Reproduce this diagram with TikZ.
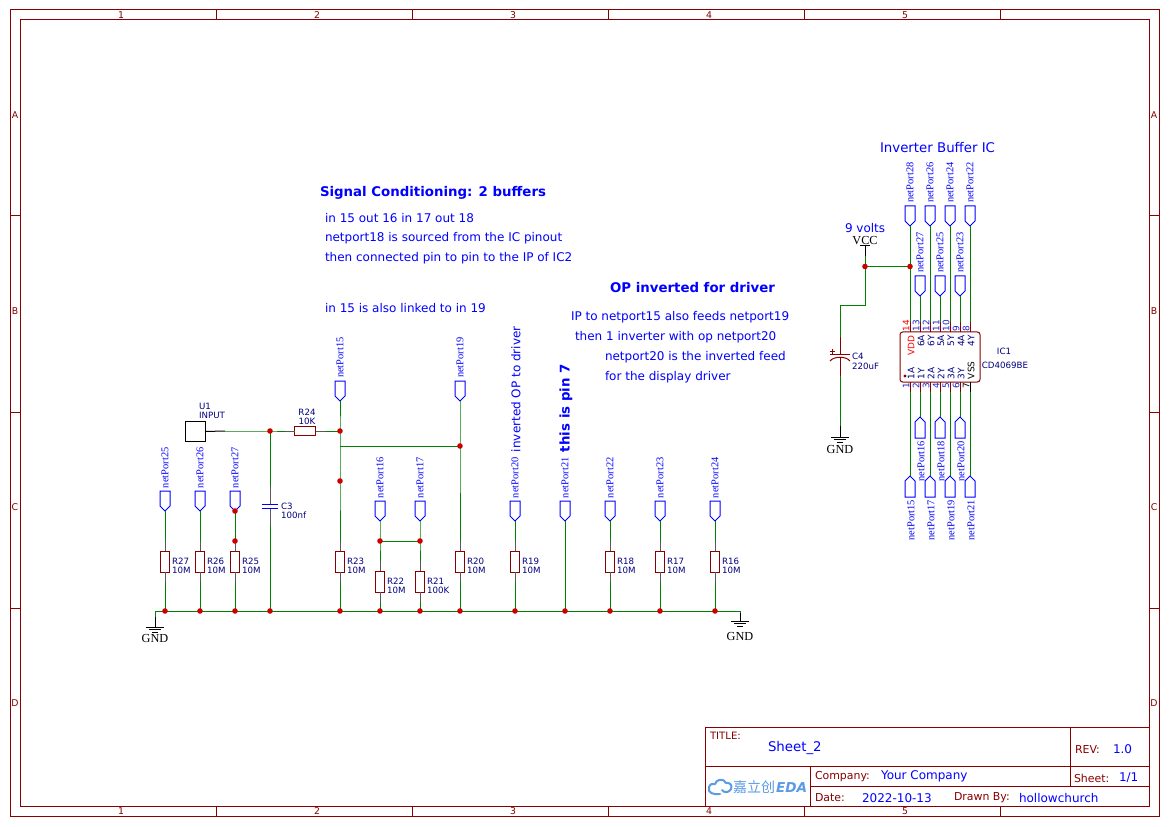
\documentclass[tikz,border=0pt]{standalone}
\usepackage{fontspec}
\setmainfont{DejaVu Sans}
\newfontfamily\netfont{Liberation Serif}
\newfontfamily\cjkfont{Noto Sans CJK SC}
\usetikzlibrary{calc}
\definecolor{frameRed}{HTML}{880000}
\definecolor{wireGreen}{HTML}{008000}
\definecolor{juncRed}{HTML}{CC0000}
\definecolor{labNavy}{HTML}{000080}
\definecolor{pinBlue}{HTML}{2222CC}
\definecolor{logoBlue}{HTML}{5B9BE6}
\newcommand{\fs}[1]{\fontsize{#1}{#1}\selectfont}
\tikzset{
  x=0.75pt,y=-0.75pt,
  every node/.style={inner sep=0pt,outer sep=0pt},
  wire/.style={draw=wireGreen,line width=0.75pt},
  lead/.style={draw=black!65,line width=0.75pt},
  pinred/.style={draw=frameRed,line width=0.75pt},
  pinblack/.style={draw=black,line width=0.75pt},
  frameline/.style={draw=frameRed,line width=0.75pt},
  portline/.style={draw=blue,line width=0.75pt,line join=miter},
  junc/.style={circle,fill=juncRed,minimum size=4.2pt},
  resV/.style={rectangle,draw=frameRed,line width=0.75pt,minimum width=6.75pt,minimum height=15.75pt},
  resH/.style={rectangle,draw=frameRed,line width=0.75pt,minimum width=15.75pt,minimum height=6.75pt},
  netlab/.style={text=blue,font=\netfont\fs{7.8}},
  note/.style={text=blue,anchor=west,font=\fs{9}},
  notebold/.style={text=blue,anchor=west,font=\bfseries\fs{10}},
  part/.style={text=labNavy,anchor=west,font=\fs{6.5}},
  pinname/.style={text=labNavy,font=\fs{6.7}},
  pinnum/.style={text=pinBlue,font=\fs{6.7}},
  grid/.style={text=frameRed,font=\fs{7}},
  tblab/.style={text=frameRed,anchor=west,font=\fs{8.2}},
  tbval/.style={text=blue,anchor=west,font=\fs{9}},
  gndlab/.style={text=black,font=\netfont\fs{9.2}},
}
% down-pointing port: name, x, top y, label
\newcommand{\portdown}[4]{%
  \draw[portline] (#2,#3) ++(-5,0) -- ++(10,0) -- ++(0,15) -- ++(-5,5) coordinate (#1) -- ++(-5,-5) -- cycle;
  \node[netlab,rotate=90,anchor=west] (#1lab) at (#2,#3-3) {#4};}
% up-pointing port: name, x, tip y, label
\newcommand{\portup}[4]{%
  \draw[portline] (#2,#3) coordinate (#1) -- ++(5,5) -- ++(0,16) -- ++(-10,0) -- ++(0,-16) -- cycle;
  \node[netlab,rotate=90,anchor=east] (#1lab) at (#2+1,#3+24) {#4};}
% vertical resistor: name, x, centre y, ref, value
\newcommand{\resv}[5]{%
  \node[resV] (#1) at (#2,#3) {};
  \draw[lead] (#1.north) -- ++(0,-10) coordinate (#1t);
  \draw[lead] (#1.south) -- ++(0,10) coordinate (#1b);
  \node[part] (#1ref) at (#2+7,#3-0.5) {#4};
  \node[part] (#1val) at (#2+7,#3+9) {#5};}
\newcommand{\junction}[3]{\node[junc] (#1) at (#2,#3) {};}
% ground: name, x, y of top line
\newcommand{\groundsym}[3]{%
  \coordinate (#1) at (#2,#3);
  \draw[pinblack] (#2,#3) ++(-9,0) -- ++(18,0) ++(-15,2.5) -- ++(12,0) ++(-9,2.5) -- ++(6,0);}
\begin{document}
\begin{tikzpicture}
\useasboundingbox (0,0) rectangle (1171,827);
\fill[white] (0,0) rectangle (1171,827);
% ---------- frame ----------
\draw[frameline] (10,10) rectangle (1159,816);
\draw[frameline] (20,20) rectangle (1149,806);
\foreach \xx in {216,412,608,804,1000}{
  \draw[frameline] (\xx,10) -- (\xx,20);
  \draw[frameline] (\xx,806) -- (\xx,816);}
\foreach \yy in {216,412,608}{
  \draw[frameline] (10,\yy) -- (20,\yy);
  \draw[frameline] (1149,\yy) -- (1159,\yy);}
\foreach \xx/\tt in {121/1,317/2,513/3,709/4,905/5}{
  \node[grid] at (\xx,15.5) {\tt};
  \node[grid] at (\xx,811.5) {\tt};}
\foreach \yy/\tt in {115/A,311/B,507/C,703/D}{
  \node[grid] at (15,\yy) {\tt};
  \node[grid] at (1154,\yy) {\tt};}
% ---------- title block ----------
\draw[frameline,fill=white] (705,727) rectangle (1149,806);
\draw[frameline] (705,766) -- (1149,766);
\draw[frameline] (810,786) -- (1149,786);
\draw[frameline] (810,766) -- (810,806);
\draw[frameline] (1070,727) -- (1070,786);
\node[tblab,font=\fs{7.6}] (ttitle) at (710,736) {TITLE:};
\node[tbval,font=\fs{10}] (tsheet) at (768,748.5) {Sheet\_2};
\node[tblab] (trev) at (1075,749.5) {REV:};
\node[tbval] (trevv) at (1113,749) {1.0};
\node[tblab] (tcomp) at (815,776.5) {Company:};
\node[tbval] (tcompv) at (881,776) {Your Company};
\node[tblab] (tsh) at (1074,778) {Sheet:};
\node[tbval] (tshv) at (1119,778) {1/1};
\node[tblab] (tdate) at (815,798) {Date:};
\node[tbval] (tdatev) at (862,798) {2022-10-13};
\node[tblab] (tdrawn) at (954,798) {Drawn By:};
\node[tbval] (tdrawnv) at (1019,798) {hollowchurch};
% logo
\draw[logoBlue,line width=1.5pt,line cap=round,line join=round]
  (720,794) .. controls (714,795) and (707,793) .. (709,787)
  .. controls (710,784) and (713,783) .. (715,784)
  .. controls (716,779) and (724,778) .. (726,783)
  .. controls (729,782) and (733,785) .. (731,789)
  .. controls (729,793) and (724,793) .. (722,790);
\node[text=logoBlue,anchor=west,font=\cjkfont\fs{10.5}] (logoa) at (733,787.5) {嘉立创};
\node[text=logoBlue,anchor=west,font=\bfseries\itshape\fs{10.2}] (logob) at (776,787.5) {EDA};
% ---------- notes ----------
\node[notebold] (n1) at (320,192.5) {Signal Conditioning: 2 buffers};
\node[note] (n2) at (325,218) {in 15 out 16 in 17 out 18};
\node[note] (n3) at (325,238) {netport18 is sourced from the IC pinout};
\node[note] (n4) at (325,258) {then connected pin to pin to the IP of IC2};
\node[note] (n5) at (325,308) {in 15 is also linked to in 19};
\node[notebold] (n6) at (610,287.5) {OP inverted for driver};
\node[note] (n7) at (571,317.5) {IP to netport15 also feeds netport19};
\node[note] (n8) at (575,337.5) {then 1 inverter with op netport20};
\node[note] (n9) at (605,357.5) {netport20 is the inverted feed};
\node[note] (n10) at (605,377.5) {for the display driver};
\node[note,rotate=90] (n11) at (516,452) {inverted OP to driver};
\node[notebold,rotate=90] (n12) at (566,452) {this is pin 7};
\node[note] (n13) at (845,228) {9 volts};
\node[note,font=\fs{10}] (n14) at (880,147.5) {Inverter Buffer IC};
% ---------- left circuit ----------
\node[rectangle,draw=black,line width=0.75pt,minimum width=15pt,minimum height=15pt] (U1) at (195,431.5) {};
\node[part] (U1ref) at (199,406) {U1};
\node[part] (U1val) at (199,415) {INPUT};
\coordinate (U1p) at (225,431);
\draw[pinblack] (U1.east) -- (U1p);
\node[resH] (R24) at (305,431) {};
\draw[lead] (R24.west) -- ++(-10,0) coordinate (R24l);
\draw[lead] (R24.east) -- ++(10,0) coordinate (R24r);
\node[part,anchor=center] (R24ref) at (307,412) {R24};
\node[part,anchor=center] (R24val) at (307,421.5) {10K};
% ports above
\portdown{P15}{340}{381}{netPort15}
\portdown{P19}{460}{381}{netPort19}
\portdown{P25}{165}{491}{netPort25}
\portdown{P26}{200}{491}{netPort26}
\portdown{P27}{235}{491}{netPort27}
\portdown{P16}{380}{501}{netPort16}
\portdown{P17}{420}{501}{netPort17}
\portdown{P20}{515}{501}{netPort20}
\portdown{P21}{565}{501}{netPort21}
\portdown{P22}{610}{501}{netPort22}
\portdown{P23}{660}{501}{netPort23}
\portdown{P24}{715}{501}{netPort24}
% resistors
\resv{R27}{165}{561.5}{R27}{10M}
\resv{R26}{200}{561.5}{R26}{10M}
\resv{R25}{235}{561.5}{R25}{10M}
\resv{R23}{340}{561.5}{R23}{10M}
\resv{R22}{380}{581.5}{R22}{10M}
\resv{R21}{420}{581.5}{R21}{100K}
\resv{R20}{460}{561.5}{R20}{10M}
\resv{R19}{515}{561.5}{R19}{10M}
\resv{R18}{610}{561.5}{R18}{10M}
\resv{R17}{660}{561.5}{R17}{10M}
\resv{R16}{715}{561.5}{R16}{10M}
% C3
\coordinate (C3t) at (270,486);
\coordinate (C3b) at (270,526);
\draw[lead] (C3t) -- (270,504);
\draw[lead] (270,508) -- (C3b);
\draw[draw=blue,line width=0.75pt] (262,504) -- (278,504) (262,508) -- (278,508);
\node[part] (C3ref) at (281,506) {C3};
\node[part] (C3val) at (281,515.5) {100nf};
% junctions on bus and nets
\coordinate (jT) at (340,446);
\coordinate (gl) at (155,611);
\coordinate (gr) at (740,611);
\foreach \nm/\xx in {b165/165,b200/200,b235/235,b270/270,b340/340,b380/380,b420/420,b460/460,b515/515,b565/565,b610/610,b660/660,b715/715}{
  \coordinate (\nm) at (\xx,611);}
\coordinate (jC) at (270,431);
\coordinate (jA) at (340,431);
\coordinate (jB) at (340,481);
\coordinate (jH) at (460,446);
\coordinate (jP) at (235,511);
\coordinate (jQ) at (235,541);
\coordinate (jR) at (380,541);
\coordinate (jS) at (420,541);
% wires
\draw[wire] (U1p) -- (jC) -- (R24l);
\draw[wire] (R24r) -- (jA);
\draw[wire] (P15) -- (jA) -- (jT) -- (jB) -- (R23t);
\draw[wire] (jT) -- (jH);
\draw[wire] (P19) -- (jH) -- (R20t);
\draw[wire] (jC) -- (C3t);
\draw[wire] (C3b) -- (b270);
\draw[wire] (P25) -- (R27t);
\draw[wire] (P26) -- (R26t);
\draw[wire] (P27) -- (jQ) -- (R25t);
\draw[wire] (P16) -- (jR) -- (R22t);
\draw[wire] (P17) -- (jS) -- (R21t);
\draw[wire] (jR) -- (jS);
\draw[wire] (P20) -- (R19t);
\draw[wire] (P21) -- (b565);
\draw[wire] (P22) -- (R18t);
\draw[wire] (P23) -- (R17t);
\draw[wire] (P24) -- (R16t);
\draw[wire] (R27b) -- (b165);
\draw[wire] (R26b) -- (b200);
\draw[wire] (R25b) -- (b235);
\draw[wire] (R23b) -- (b340);
\draw[wire] (R22b) -- (b380);
\draw[wire] (R21b) -- (b420);
\draw[wire] (R20b) -- (b460);
\draw[wire] (R19b) -- (b515);
\draw[wire] (R18b) -- (b610);
\draw[wire] (R17b) -- (b660);
\draw[wire] (R16b) -- (b715);
\draw[wire] (gl) -- (gr);
% junction dots over wires
\foreach \nm/\xx in {d165/165,d200/200,d235/235,d270/270,d340/340,d380/380,d420/420,d460/460,d515/515,d565/565,d610/610,d660/660,d715/715}{
  \junction{\nm}{\xx}{611}}
\junction{dC}{270}{431}
\junction{dA}{340}{431}
\junction{dB}{340}{481}
\junction{dH}{460}{446}
\junction{dP}{235}{511}
\junction{dQ}{235}{541}
\junction{dR}{380}{541}
\junction{dS}{420}{541}
% grounds
\groundsym{GL}{155}{627}
\groundsym{GR}{740}{621}
\groundsym{GC}{840}{437}
\coordinate (gll) at (155,617);
\coordinate (grl) at (740,613);
\draw[wire] (gl) -- (gll);
\draw[wire] (gr) -- (grl);
\draw[pinblack] (gll) -- (GL);
\draw[pinblack] (grl) -- (GR);
\node[gndlab] (gndL) at (155,638.5) {GND};
\node[gndlab] (gndR) at (740,636.5) {GND};
\node[gndlab] (gndC) at (840,449) {GND};
% ---------- IC ----------
\node[rectangle,rounded corners=2pt,draw=frameRed,line width=0.75pt,minimum width=60pt,minimum height=37.5pt] (IC) at (940,357) {};
\fill[frameRed] (905,376) circle (1.6);
\node[part,anchor=center] (ICref) at (1004,351) {IC1};
\node[part,anchor=center] (ICval) at (1005,365.5) {CD4069BE};
\foreach \xx/\num/\nam in {920/13/6A,930/12/6Y,940/11/5A,950/10/5Y,960/9/4A,970/8/4Y}{
  \coordinate (T\num) at (\xx,322);
  \draw[pinred] (T\num) -- (\xx,332);
  \node[pinnum,rotate=90,anchor=west] at (\xx-4,331) {\num};
  \node[pinname,rotate=90,anchor=east] at (\xx+1,335) {\nam};}
\coordinate (T14) at (910,322);
\draw[pinred] (T14) -- (910,332);
\node[pinnum,text=red,rotate=90,anchor=west] at (906,331) {14};
\node[pinname,text=red,rotate=90,anchor=east] at (911,336) {VDD};
\foreach \xx/\num/\nam in {910/1/1A,920/2/1Y,930/3/2A,940/4/2Y,950/5/3A,960/6/3Y}{
  \coordinate (B\num) at (\xx,392);
  \draw[pinred] (B\num) -- (\xx,382);
  \node[pinnum,rotate=90,anchor=east] at (\xx-4,383) {\num};
  \node[pinname,rotate=90,anchor=west] at (\xx+1,379) {\nam};}
\coordinate (B7) at (970,392);
\draw[pinblack] (B7) -- (970,382);
\node[pinnum,text=black,rotate=90,anchor=east] at (966,383) {7};
\node[pinname,text=black,rotate=90,anchor=west] at (971,379) {VSS};
% ports on IC
\portdown{P28t}{910}{206}{netPort28}
\portdown{P26t}{930}{206}{netPort26}
\portdown{P24t}{950}{206}{netPort24}
\portdown{P22t}{970}{206}{netPort22}
\portdown{P27t}{920}{276}{netPort27}
\portdown{P25t}{940}{276}{netPort25}
\portdown{P23t}{960}{276}{netPort23}
\portup{P16b}{920}{417}{netPort16}
\portup{P18b}{940}{417}{netPort18}
\portup{P20b}{960}{417}{netPort20}
\portup{P15b}{910}{476}{netPort15}
\portup{P17b}{930}{476}{netPort17}
\portup{P19b}{950}{476}{netPort19}
\portup{P21b}{970}{476}{netPort21}
\draw[wire] (P28t) -- (T14);
\draw[wire] (P26t) -- (T12);
\draw[wire] (P24t) -- (T10);
\draw[wire] (P22t) -- (T8);
\draw[wire] (P27t) -- (T13);
\draw[wire] (P25t) -- (T11);
\draw[wire] (P23t) -- (T9);
\draw[wire] (B1) -- (P15b);
\draw[wire] (B2) -- (P16b);
\draw[wire] (B3) -- (P17b);
\draw[wire] (B4) -- (P18b);
\draw[wire] (B5) -- (P19b);
\draw[wire] (B6) -- (P20b);
\draw[wire] (B7) -- (P21b);
% VCC and C4
\draw[pinblack] (860,246) -- (870,246);
\coordinate (VCCt) at (865,246);
\coordinate (VCCb) at (865,256);
\draw[pinblack] (VCCt) -- (VCCb);
\node[gndlab] (vcc) at (865,241) {VCC};
\coordinate (jV) at (865,266.5);
\coordinate (jW) at (910,266.5);
\coordinate (C4t) at (840,337);
\coordinate (C4b) at (840,376);
\coordinate (C4g) at (840,426);
\draw[wire] (VCCb) -- (jV) -- (865,306) -- (840,306) -- (C4t);
\draw[wire] (jV) -- (jW);
\draw[wire] (C4b) -- (C4g);
\draw[pinblack] (C4g) -- (GC);
\junction{dV}{865}{266.5}
\junction{dW}{910}{266.5}
\draw[pinred] (C4t) -- (840,354);
\draw[pinred] (840,358) -- (C4b);
\draw[pinred] (830,354) -- (850,354);
\draw[pinred] (830,361) .. controls (834,356) and (846,356) .. (850,361);
\draw[pinred] (829.5,351) -- (835,351) (832.2,348.5) -- (832.2,353.5);
\node[part] (C4ref) at (852,356) {C4};
\node[part] (C4val) at (852,366) {220uF};
\end{tikzpicture}
\end{document}
